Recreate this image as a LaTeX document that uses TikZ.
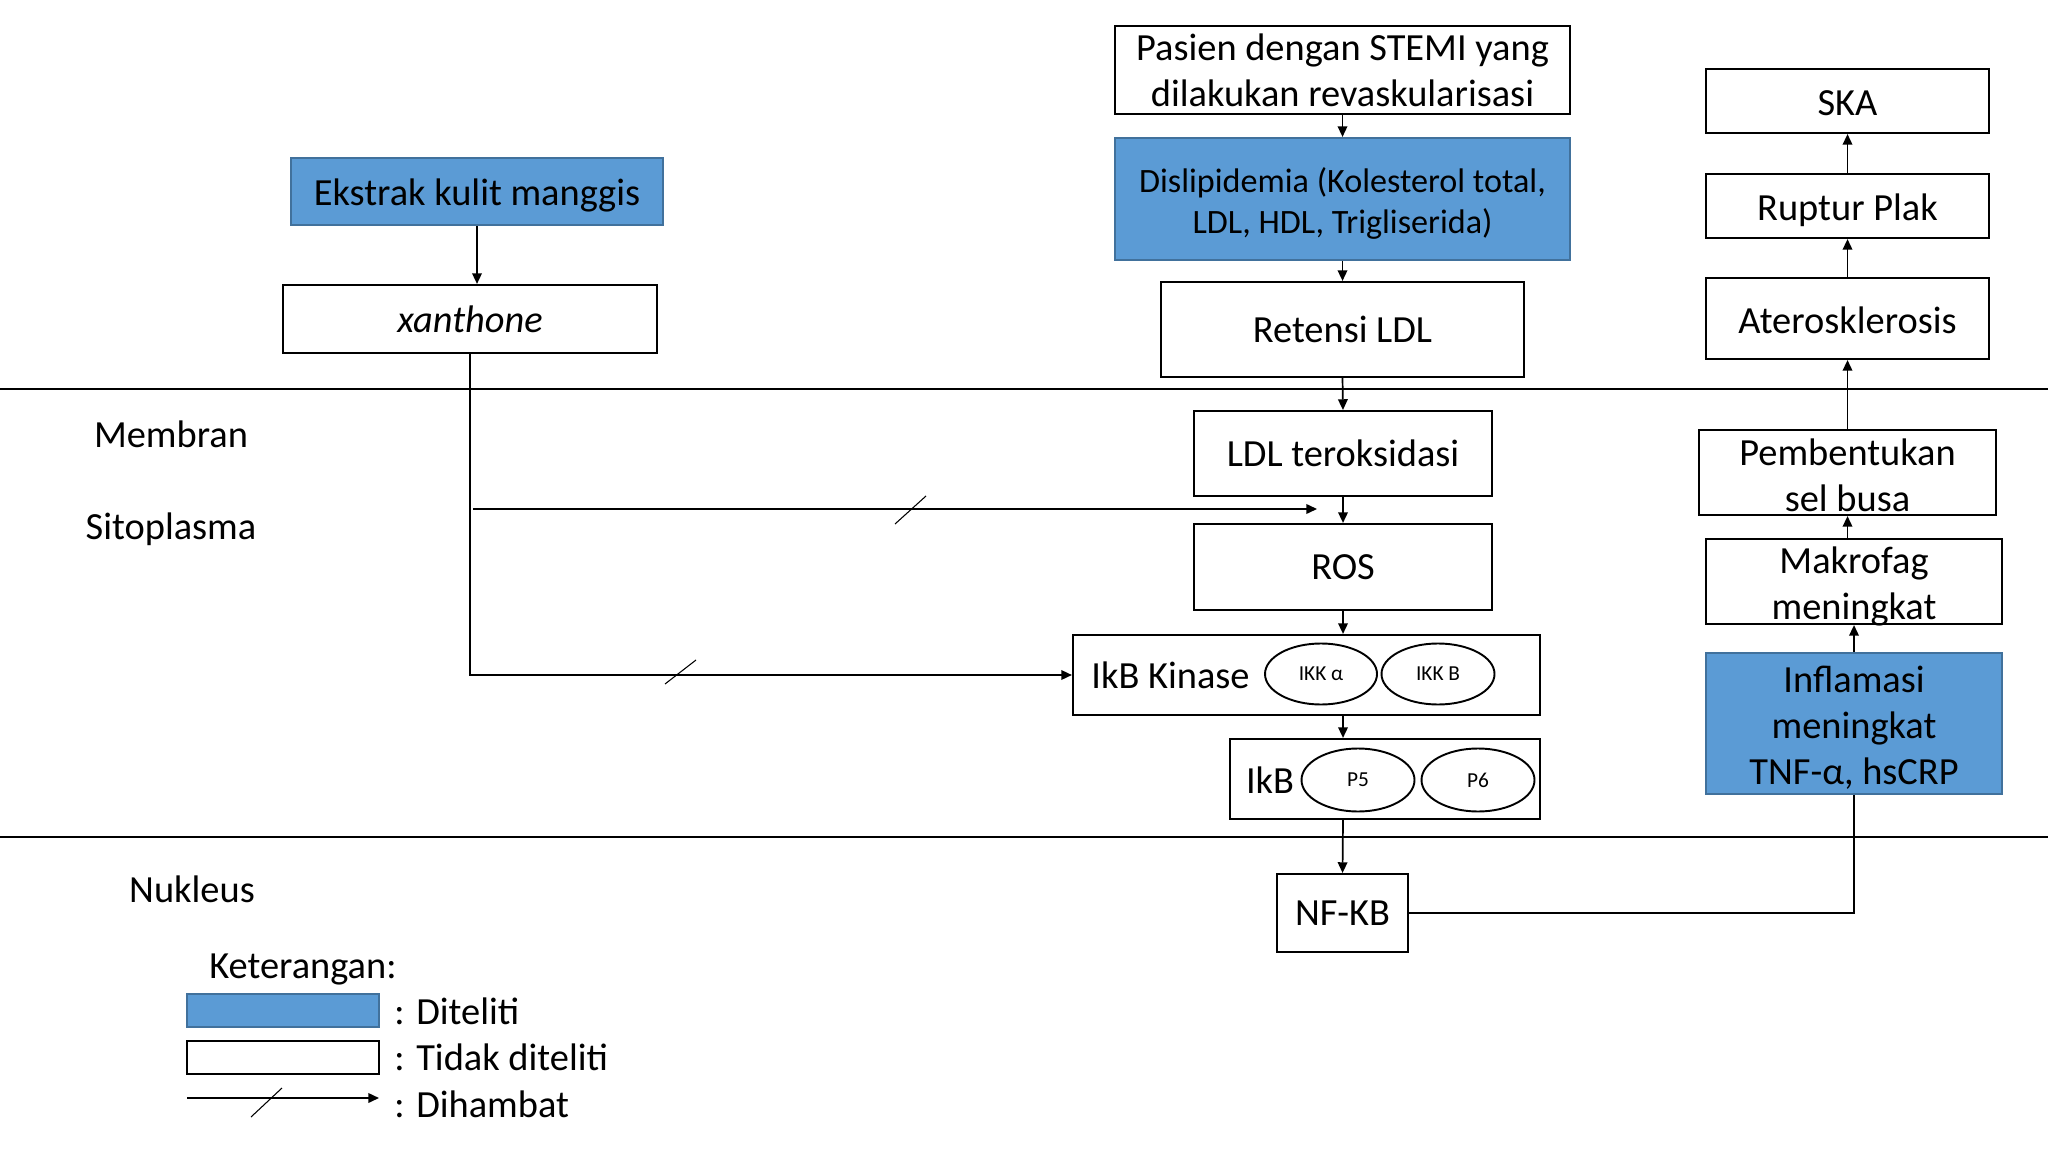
\documentclass[tikz,border=0pt]{standalone}
\usepackage{fontspec}
\setmainfont{Carlito}
\usetikzlibrary{arrows.meta,shapes.geometric}
\definecolor{myblue}{HTML}{5B9BD5}
\definecolor{myborder}{HTML}{41719C}
\newcommand{\pxu}{0.46875pt}
\newcommand{\lift}[1]{\rule{0pt}{#1}}
\tikzset{
  box/.style={draw=black, line width=1pt, fill=white, rectangle, inner sep=0pt, align=center, font=\fontsize{18}{21.6}\selectfont},
  bluebox/.style={box, fill=myblue, draw=myborder},
  oval/.style={draw=black, line width=0.9pt, ellipse, inner sep=0pt, font=\fontsize{10}{12}\selectfont},
  lbl/.style={inner sep=0pt, font=\fontsize{18}{21.6}\selectfont},
  arr/.style={line width=0.8pt, -{Triangle[length=5pt,width=4.5pt]}},
  ln/.style={line width=0.8pt},
  sep/.style={line width=1pt},
  slash/.style={line width=0.5pt}
}
\begin{document}
\begin{tikzpicture}[x=0.46875pt,y=-0.46875pt]
\useasboundingbox (0,0) rectangle (2048,1152);
% separators
\draw[sep] (0,389) -- (2048,389);
\draw[sep] (0,837) -- (2048,837);
% region labels
\node[lbl] (membran) at (171,434) {Membran};
\node[lbl] (sito) at (171,529) {Sitoplasma};
\node[lbl] (nukleus) at (192,889) {Nukleus};
% central column
\node[box, minimum width=455*\pxu, minimum height=88*\pxu] (pasien) at (1342.5,70) {Pasien dengan STEMI yang\\dilakukan revaskularisasi};
\node[bluebox, minimum width=455*\pxu, minimum height=122*\pxu, font=\fontsize{16}{19.5}\selectfont] (disl) at (1342.5,199) {\lift{15.7pt}Dislipidemia (Kolesterol total,\\LDL, HDL, Trigliserida)};
\node[box, minimum width=363*\pxu, minimum height=95*\pxu] (retensi) at (1342.5,329.5) {Retensi LDL};
\node[box, minimum width=298*\pxu, minimum height=85*\pxu] (ldlox) at (1343,453.5) {LDL teroksidasi};
\node[box, minimum width=298*\pxu, minimum height=86*\pxu] (ros) at (1343,567) {ROS};
\node[box, minimum width=467*\pxu, minimum height=80*\pxu] (ikk) at (1306.5,675) {};
\node[lbl, anchor=west] (ikkt) at (1091,675) {IkB Kinase};
\node[oval, minimum width=112*\pxu, minimum height=61*\pxu] (ikka) at (1321,674) {IKK α};
\node[oval, minimum width=113*\pxu, minimum height=61*\pxu] (ikkb) at (1438,674) {IKK B};
\node[box, minimum width=310*\pxu, minimum height=80*\pxu] (ikb) at (1385,779) {};
\node[lbl] (ikbt) at (1270,780) {IkB};
\node[oval, minimum width=113*\pxu, minimum height=63*\pxu] (p5) at (1358,780) {P5};
\node[oval, minimum width=113*\pxu, minimum height=63*\pxu] (p6) at (1478,780) {P6};
\node[box, minimum width=131*\pxu, minimum height=78*\pxu] (nfkb) at (1342.5,913) {NF-KB};
% central arrows
\draw[arr] (pasien.south) -- (disl.north);
\draw[arr] (disl.south) -- (retensi.north);
\draw[arr] (retensi.south) -- (ldlox.north);
\draw[arr] (ldlox.south) -- (ros.north);
\draw[arr] (ros.south) -- (ros.south |- ikk.north);
\draw[arr] (ros.south |- ikk.south) -- (ros.south |- ikb.north);
\draw[arr] (ros.south |- ikb.south) -- (nfkb.north);
% left column
\node[bluebox, minimum width=372*\pxu, minimum height=67*\pxu] (ekstrak) at (477,191.5) {\lift{16.3pt}Ekstrak kulit manggis};
\node[box, minimum width=374*\pxu, minimum height=68*\pxu] (xanthone) at (470,319) {\itshape xanthone};
\draw[arr] (ekstrak.south) -- (ekstrak.south |- xanthone.north);
\coordinate (inh1) at (1317,509);
\coordinate (branch) at (473,509);
\draw[arr] (xanthone.south) |- (ikk.west);
\draw[arr] (branch) -- (inh1);
\draw[slash] (895,524) -- (926,496);
\draw[slash] (665,684) -- (696,660);
% right column
\node[box, minimum width=283*\pxu, minimum height=64*\pxu] (ska) at (1847.5,101) {\lift{14.1pt}SKA};
\node[box, minimum width=283*\pxu, minimum height=64*\pxu] (ruptur) at (1847.5,206) {\lift{16.3pt}Ruptur Plak};
\node[box, minimum width=283*\pxu, minimum height=81*\pxu] (atero) at (1847.5,318.5) {\lift{14pt}Aterosklerosis};
\node[box, minimum width=297*\pxu, minimum height=85*\pxu] (pemb) at (1847.5,472.5) {\lift{15.1pt}Pembentukan\\sel busa};
\node[box, minimum width=296*\pxu, minimum height=85*\pxu,
      label={[lbl, align=center, yshift=-2.3pt]center:Makrofag\\meningkat}] (makro) at (1854,581.5) {};
\node[bluebox, minimum width=296*\pxu, minimum height=141*\pxu] (infl) at (1854,723.5) {\lift{16.3pt}Inflamasi\\meningkat\\TNF-α, hsCRP};
\draw[arr] (ruptur.north) -- (ska.south);
\draw[arr] (atero.north) -- (ruptur.south);
\draw[arr] (pemb.north) -- (atero.south);
\draw[arr] (pemb.south |- makro.north) -- (pemb.south);
\draw[arr] (infl.north) -- (makro.south);
\draw[ln] (nfkb.east) -| (infl.south);
% legend
\node[lbl, anchor=west] (ket) at (209,969) {Keterangan:};
\node[bluebox, minimum width=192*\pxu, minimum height=33*\pxu] (lg1) at (283,1010.5) {};
\node[box, minimum width=192*\pxu, minimum height=33*\pxu] (lg2) at (283,1057.5) {};
\coordinate (lga) at (187,1098);
\coordinate (lgb) at (379,1098);
\draw[arr] (lga) -- (lgb);
\draw[slash] (251,1117) -- (282,1088);
\node[lbl, anchor=west] (t1) at (394,1011) {: Diteliti};
\node[lbl, anchor=west] (t2) at (394,1057) {: Tidak diteliti};
\node[lbl, anchor=west] (t3) at (394,1104) {: Dihambat};
\end{tikzpicture}
\end{document}
